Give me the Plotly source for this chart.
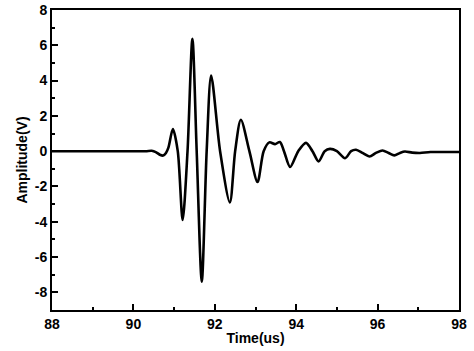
import plotly.graph_objects as go

# Waveform (time in us, amplitude in V)
time_us = [88.0, 89.5, 90.3, 90.45, 90.55, 90.65, 90.73, 90.8, 90.86, 90.97, 91.09, 91.21, 91.33, 91.45,
           91.555, 91.68, 91.80, 91.91, 92.13, 92.37, 92.5, 92.64, 92.85, 93.05, 93.2,
           93.34, 93.48, 93.6, 93.7, 93.85, 94.05, 94.24, 94.4, 94.55, 94.7, 94.83, 95.0,
           95.2, 95.35, 95.47, 95.63, 95.8, 95.96, 96.12, 96.27, 96.41, 96.55, 96.67,
           96.85, 97.04, 97.3, 98.0]
amplitude_v = [0.0, 0.0, 0.0, 0.02, -0.05, -0.2, -0.25, -0.1, 0.2, 1.25, 0.0, -3.9, 0.0, 6.37,
               0.0, -7.4, 0.0, 4.29, 0.0, -2.9, 0.0, 1.78, 0.0, -1.75, 0.0,
               0.5, 0.4, 0.52, 0.0, -0.9, 0.0, 0.47, 0.0, -0.58, 0.0, 0.13, 0.0,
               -0.4, 0.0, 0.08, -0.1, -0.3, -0.1, 0.04, -0.1, -0.24, -0.1, -0.02,
               -0.08, -0.1, -0.05, -0.05]

x_ticks = [88, 90, 92, 94, 96, 98]
y_ticks = [-8, -6, -4, -2, 0, 2, 4, 6, 8]
y_tick_text = [str(v) for v in y_ticks]

fig = go.Figure()
fig.add_trace(go.Scatter(x=time_us, y=amplitude_v, mode="lines",
                         line=dict(color="black", width=2.6, shape="spline", smoothing=0.8),
                         showlegend=False))

font_family = "Arial, Liberation Sans, sans-serif"
axis_common = dict(showline=True, linecolor="black", linewidth=2, mirror=True,
                   ticks="inside", ticklen=6, tickwidth=1.5, tickcolor="black",
                   showgrid=False, zeroline=False, automargin=False,
                   tickfont=dict(family=font_family, size=14, color="black", weight="bold"))

fig.update_xaxes(range=[88, 98], tickvals=x_ticks,
                 minor=dict(ticks="inside", ticklen=3, tickwidth=1.5, tickcolor="black", dtick=1, tick0=88),
                 title=dict(text="Time(us)", font=dict(family=font_family, size=14, color="black", weight="bold"), standoff=2),
                 **axis_common)
fig.update_yaxes(range=[-9, 8], tickvals=y_ticks, ticktext=y_tick_text,
                 minor=dict(ticks="inside", ticklen=3, tickwidth=1.5, tickcolor="black", dtick=1, tick0=0),
                 title=dict(text="Amplitude(V)", font=dict(family=font_family, size=14, color="black", weight="bold"), standoff=4),
                 **axis_common)

fig.update_layout(width=474, height=351, margin=dict(l=52, r=15, t=10, b=41),
                  paper_bgcolor="white", plot_bgcolor="white")

fig.write_html("out.html")
